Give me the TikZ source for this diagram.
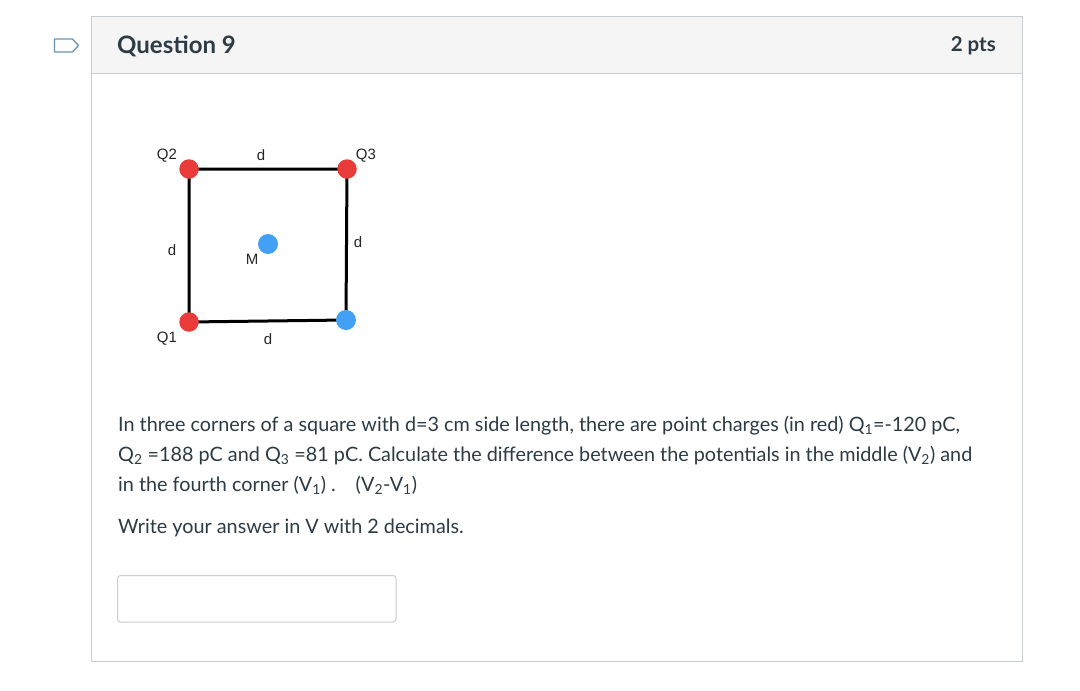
\documentclass[tikz,border=0pt]{standalone}
\usepackage{fontspec}
\setmainfont{Lato}
\newfontfamily\labelfont{Liberation Sans}
\definecolor{txt}{HTML}{2D3B45}
\definecolor{hdrbg}{HTML}{F5F5F5}
\definecolor{bordergray}{HTML}{C7CDD1}
\definecolor{chargered}{HTML}{EA3B3B}
\definecolor{pointblue}{HTML}{42A1F5}
\definecolor{iconblue}{HTML}{6A92B6}
\begin{document}
\begin{tikzpicture}[x=1pt,y=-1pt,
  cardline/.style={draw=bordergray,line width=1pt},
  side/.style={line width=3pt,black},
  redq/.style={circle,fill=chargered,minimum size=19.5pt,inner sep=0pt},
  bluep/.style={circle,fill=pointblue,minimum size=20pt,inner sep=0pt},
  lab/.style={font=\labelfont\fontsize{15}{18}\selectfont,text=black!85,inner sep=0pt},
  body/.style={font=\fontsize{19.8}{24}\selectfont,text=txt,anchor=base west,inner sep=0pt},
  head/.style={font=\bfseries\fontsize{24}{28}\selectfont,text=txt,inner sep=0pt}]
\useasboundingbox (0,0) rectangle (1080,691);
\fill[white] (0,0) rectangle (1080,691);
% card
\fill[hdrbg] (91,16) rectangle (1022,73);
\draw[cardline] (91,16) rectangle (1022,661);
\draw[cardline] (91,73) -- (1022,73);
% bookmark icon
\draw[iconblue,line width=1.3pt,line join=round] (54.5,39) -- (72.5,39) -- (78.5,45.5) -- (72.5,52) -- (54.5,52) -- cycle;
\node[head,anchor=base west] (title) at (117,53) {Question 9};
\node[head,anchor=base east,font=\bfseries\fontsize{20.5}{24}\selectfont] (pts) at (996,51.5) {2 pts};
% diagram
\coordinate (c2) at (189,169);
\coordinate (c3) at (347,169);
\coordinate (c1) at (189,322);
\coordinate (c4) at (346,320);
\draw[side] (c2) -- (c3) -- (c4) -- (c1) -- cycle;
\node[redq] (q2) at (c2) {};
\node[redq] (q3) at (c3) {};
\node[redq] (q1) at (c1) {};
\node[bluep] (p4) at (c4) {};
\node[bluep] (m) at (268,244) {};
\node[lab] (lq2) at (167,156) {Q2};
\node[lab] (lq3) at (366,156) {Q3};
\node[lab] (lq1) at (167,339) {Q1};
\node[lab] (dt) at (261,155) {d};
\node[lab] (dl) at (172,250) {d};
\node[lab] (dr) at (358,242) {d};
\node[lab] (db) at (268,339) {d};
\node[lab] (lm) at (252,259) {M};
% text
\node[body] (l1) at (118,431) {In three corners of a square with d=3 cm side length, there are point charges (in red) Q\textsubscript{1}=-120 pC,};
\node[body] (l2) at (118,461) {Q\textsubscript{2} =188 pC and Q\textsubscript{3} =81 pC. Calculate the difference between the potentials in the middle (V\textsubscript{2}) and};
\node[body] (l3) at (118,491) {in the fourth corner (V\textsubscript{1}) .\quad (V\textsubscript{2}-V\textsubscript{1})};
\node[body] (l4) at (118,533) {Write your answer in V with 2 decimals.};
% answer box
\draw[bordergray,line width=1pt,rounded corners=3pt,fill=white] (117.5,575.5) rectangle (396,622) node[pos=0.5,inner sep=0] (ans) {};
\end{tikzpicture}
\end{document}
